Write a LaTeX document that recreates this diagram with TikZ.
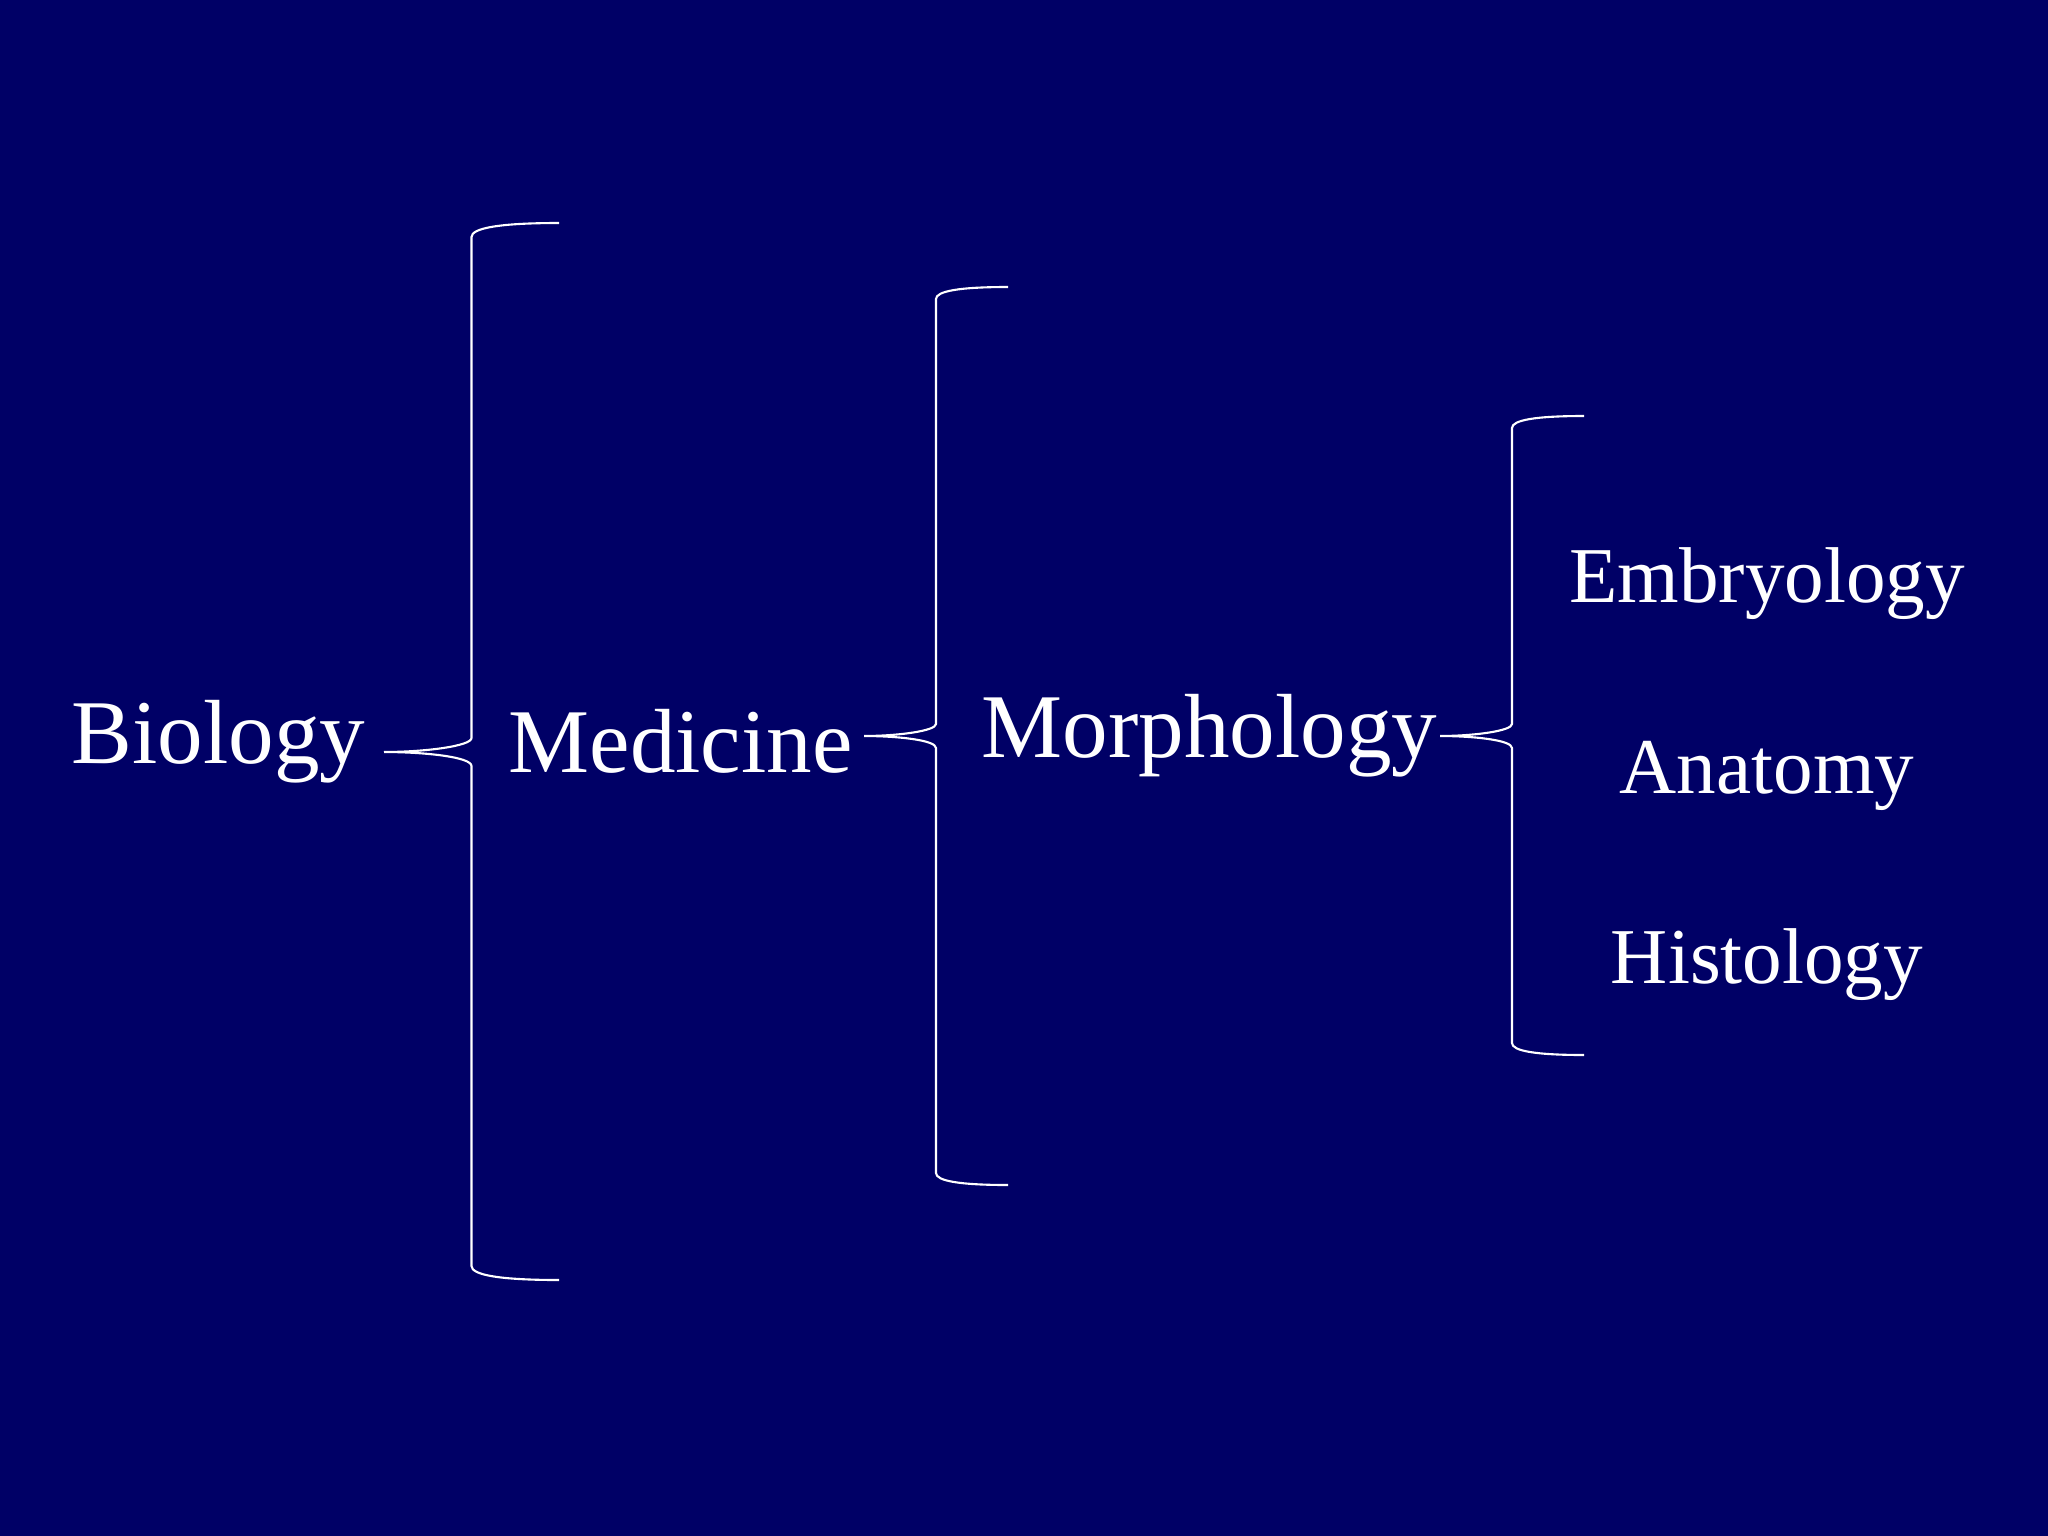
\documentclass[tikz,border=0pt]{standalone}
\usepackage{fontspec}
\setmainfont{Liberation Serif}
\definecolor{bgnavy}{RGB}{0,0,102}
\begin{document}
\begin{tikzpicture}[x=0.01cm,y=-0.01cm,
  big/.style={text=white,inner sep=0pt,font=\fontsize{25.9}{30}\selectfont},
  small/.style={text=white,inner sep=0pt,font=\fontsize{22.5}{27}\selectfont},
  bracepath/.style={draw=white,line width=0.6pt}]
\fill[bgnavy] (0,0) rectangle (2048,1536);
\useasboundingbox (0,0) rectangle (2048,1536);
% texts
\node[big,anchor=base west] (bio) at (71,763) {Biology};
\node[big,anchor=base west] (med) at (508,772) {Medicine};
\node[big,anchor=base west] (mor) at (981,757) {Morphology};
\node[small,anchor=base] (emb) at (1767,602) {Embryology};
\node[small,anchor=base] (ana) at (1767,793) {Anatomy};
\node[small,anchor=base] (his) at (1767,983) {Histology};
% brace 1
\coordinate (t1) at (384,752);
\draw[bracepath] (559,223) .. controls (500,223) and (471.5,228) .. (471.5,237)
  -- (471.5,738) .. controls (471.5,746) and (425,752) .. (t1)
  .. controls (425,752) and (471.5,757) .. (471.5,766)
  -- (471.5,1266) .. controls (471.5,1275) and (500,1280) .. (559,1280);
% brace 2
\coordinate (t2) at (864,736);
\draw[bracepath] (1008,287) .. controls (960,287) and (936,291) .. (936,299)
  -- (936,724) .. controls (936,731) and (897,736) .. (t2)
  .. controls (897,736) and (936,740) .. (936,748)
  -- (936,1173) .. controls (936,1181) and (960,1185) .. (1008,1185);
% brace 3
\coordinate (t3) at (1440,736);
\draw[bracepath] (1584,416) .. controls (1536,416) and (1512,420) .. (1512,428)
  -- (1512,724) .. controls (1512,731) and (1473,736) .. (t3)
  .. controls (1473,736) and (1512,740) .. (1512,748)
  -- (1512,1043) .. controls (1512,1051) and (1536,1055) .. (1584,1055);
\end{tikzpicture}
\end{document}
